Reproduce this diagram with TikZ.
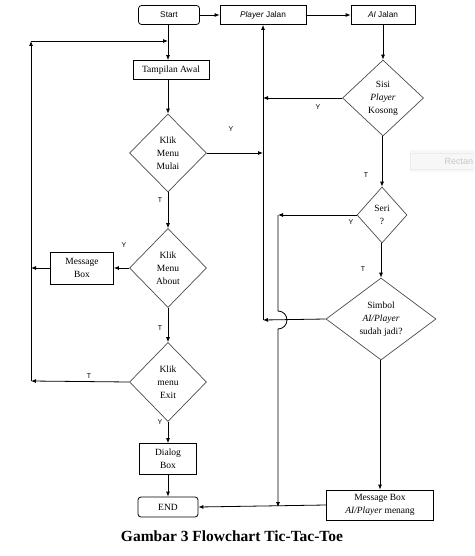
\documentclass[tikz,border=0pt]{standalone}
\usepackage{fontspec}
\setmainfont{Liberation Serif}
\setsansfont{Liberation Sans}
\usepackage{tikz}
\usetikzlibrary{arrows.meta,positioning,shapes,calc}
\tikzset{
  box/.style={draw, line width=.8pt, inner sep=1pt, align=center, font=\fontsize{9.5}{13}\selectfont},
  sbox/.style={box, font=\sffamily\fontsize{8.3}{9}\selectfont},
  rbox/.style={box, rounded corners=3pt},
  dia/.style={draw=black!70, line width=.7pt, diamond, inner sep=0pt, align=center, font=\fontsize{9.5}{13}\selectfont},
  lbl/.style={font=\sffamily\fontsize{7}{8}\selectfont},
  flow/.style={line width=.8pt, -{Latex[length=5pt,width=4pt]}}
}
\begin{document}
\begin{tikzpicture}[x = 1pt, y = -1pt, every node/.style={anchor = center}]
\clip (0,0) rectangle (474,556);
\fill[white] (0,0) rectangle (474,556);
\fill[black!3] (410,150) rectangle (474,172);
\draw[black!8] (410,153) rectangle (474,169);
\node[font=\sffamily\fontsize{9}{10}\selectfont, text=black!22, anchor=west] (rect) at (441,161) {Rectan};
\node[rbox, font=\sffamily\fontsize{8.3}{9}\selectfont, minimum width=61pt, minimum height=19pt] (start) at (169,15) {Start};
\node[sbox, minimum width=86pt, minimum height=19pt] (player) at (263,15) {\textit{Player} Jalan};
\node[sbox, minimum width=64pt, minimum height=19pt] (ai) at (383,15) {\textit{AI} Jalan};
\node[box, minimum width=76pt, minimum height=19pt] (awal) at (171,70) {Tampilan Awal};
\node[dia, minimum width=77pt, minimum height=78pt] (mulai) at (168,153) {Klik\\Menu\\Mulai};
\node[dia, minimum width=81pt, minimum height=76pt] (sisi) at (383,98) {Sisi\\\textit{Player}\\Kosong};
\node[dia, minimum width=50pt, minimum height=56pt] (seri) at (382,215) {Seri\\?};
\node[dia, minimum width=110pt, minimum height=82pt] (simbol) at (381,319) {Simbol\\\textit{AI/Player}\\sudah jadi?};
\node[dia, minimum width=77pt, minimum height=79pt] (about) at (168,268) {Klik\\Menu\\About};
\node[box, minimum width=63pt, minimum height=32pt] (msg) at (82,268) {Message\\Box};
\node[dia, minimum width=77pt, minimum height=79pt] (exit) at (168,382) {Klik\\menu\\Exit};
\node[box, minimum width=57pt, minimum height=31pt] (dialog) at (168,459) {Dialog\\Box};
\node[rbox, minimum width=60pt, minimum height=20pt] (end) at (168,507) {END};
\node[box, minimum width=107pt, minimum height=30pt] (menang) at (380,505) {Message Box\\\textit{AI/Player} menang};
\coordinate (pb) at (263,320);
\coordinate (sj) at (278,215);
\coordinate (lt) at (31,41);
\coordinate (lb) at (31,381);
\draw[flow] (start) -- (player);
\draw[flow] (player) -- (ai);
\draw[flow] (start.south -| mulai) -- (awal.north -| mulai);
\draw[flow] (ai) -- (sisi);
\draw[flow] (awal.south -| mulai) -- (mulai);
\draw[flow] (pb) -- (player.south -| pb);
\draw[flow] (mulai.east) -- (mulai.east -| pb);
\draw[flow] (sisi.west) -- (sisi.west -| pb);
\draw[flow] (sisi.south -| seri) -- (seri);
\draw[flow] (seri.west) -- (sj);
\draw[flow] (sj) -- (278,311) arc[start angle=90, end angle=-90, radius=9pt] -- (end.east -| sj);
\draw[flow] (seri.south -| simbol) -- (simbol);
\draw[flow] (simbol.west) -- (pb);
\draw[flow] (simbol.south -| menang) -- (menang);
\draw[flow] (menang.west) -- (end.east);
\draw[flow] (mulai) -- (about);
\draw[flow] (about) -- (msg);
\draw[flow] (msg.west) -- (msg.west -| lt);
\draw[flow] (about) -- (exit);
\draw[flow] (exit.west) -- (lb);
\draw[flow] (lb) -- (lt);
\draw[flow] (lt) -- (lt -| mulai);
\draw[flow] (exit) -- (dialog);
\draw[flow] (dialog) -- (end);
\node[lbl] (y1) at (231,129) {Y};
\node[lbl] (y2) at (318,107) {Y};
\node[lbl] (t1) at (366,175) {T};
\node[lbl] (y3) at (351,222) {Y};
\node[lbl] (t2) at (363,269) {T};
\node[lbl] (t3) at (160,200) {T};
\node[lbl] (y4) at (124,245) {Y};
\node[lbl] (t4) at (160,328) {T};
\node[lbl] (t5) at (89,376) {T};
\node[lbl] (y5) at (160,422) {Y};
\node[font=\bfseries\fontsize{15.5}{17}\selectfont] (cap) at (232,536) {Gambar 3 Flowchart Tic-Tac-Toe};
\end{tikzpicture}
\end{document}
